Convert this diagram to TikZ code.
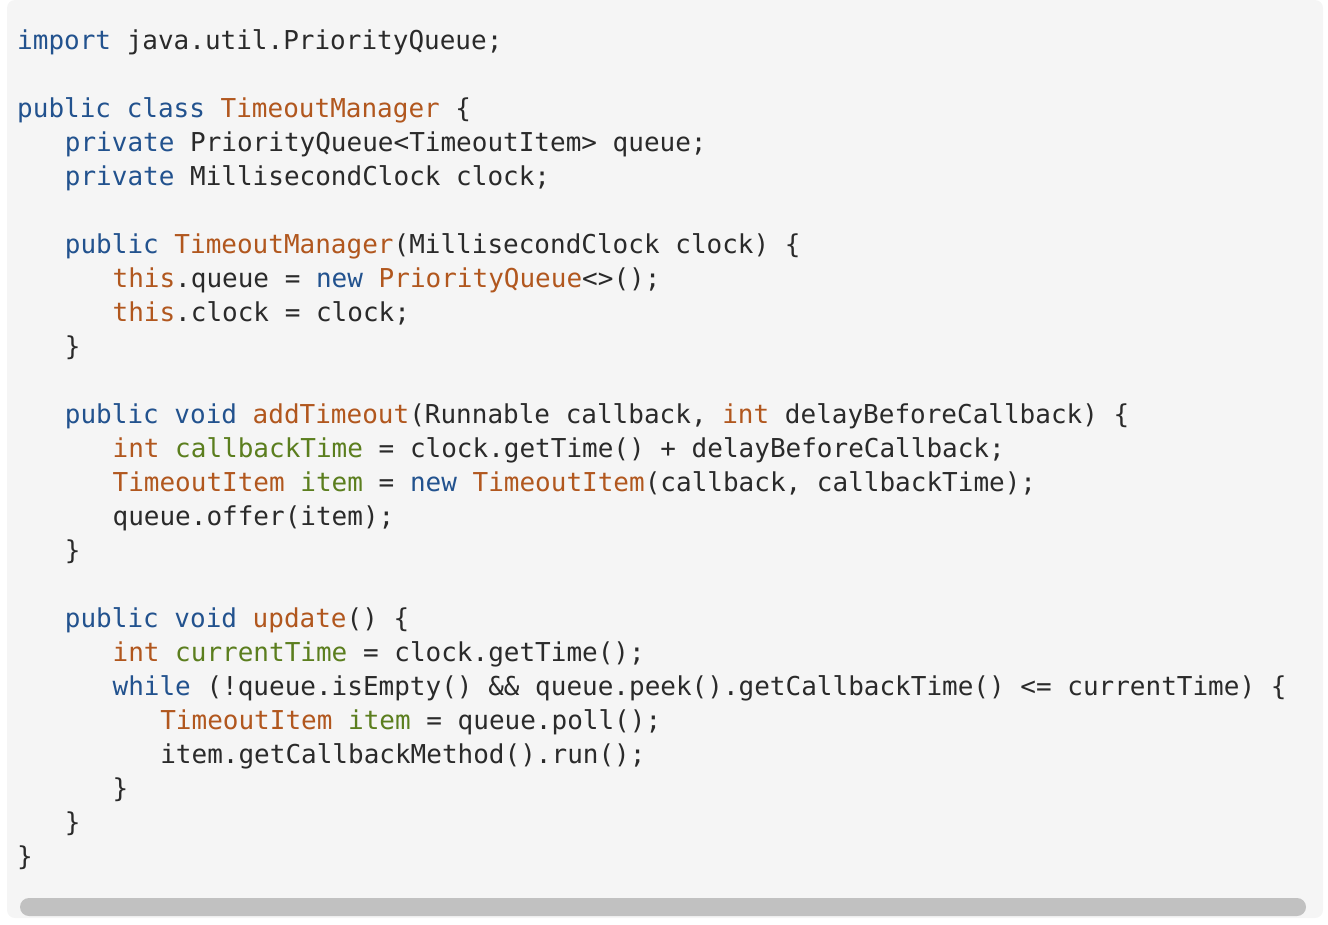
\documentclass[tikz,border=0pt]{standalone}
\usepackage{fontspec}
\setmonofont{DejaVu Sans Mono}
\definecolor{kwc}{HTML}{22528E}
\definecolor{tyc}{HTML}{B1571E}
\definecolor{vrc}{HTML}{5B7E1E}
\definecolor{txc}{HTML}{2A2A2A}
\newcommand{\kw}[1]{\textcolor{kwc}{#1}}
\newcommand{\ty}[1]{\textcolor{tyc}{#1}}
\newcommand{\vr}[1]{\textcolor{vrc}{#1}}
\tikzset{codeline/.style={anchor=base west,inner sep=0pt,font=\fontsize{26}{30}\selectfont\ttfamily,text=txc}}
\begin{document}
\begin{tikzpicture}[x=1pt,y=-1pt]
\useasboundingbox (0,0) rectangle (1328,924);
\fill[fill={rgb,255:red,245;green,245;blue,245},rounded corners=8pt] (7,0) rectangle (1323,918);
\fill[fill={rgb,255:red,193;green,193;blue,193},rounded corners=9pt] (20,898) rectangle (1306,916);
\def\cw{15.9}
\newcommand{\cl}[4]{\node[codeline] (#1) at ({17+#2*\cw},{40+#3*34+9}) {#4};}
\cl{l0}{0}{0}{\kw{import} java.util.PriorityQueue;}
\cl{l2}{0}{2}{\kw{public} \kw{class} \ty{TimeoutManager} \{}
\cl{l3}{3}{3}{\kw{private} PriorityQueue<TimeoutItem> queue;}
\cl{l4}{3}{4}{\kw{private} MillisecondClock clock;}
\cl{l6}{3}{6}{\kw{public} \ty{TimeoutManager}(MillisecondClock clock) \{}
\cl{l7}{6}{7}{\ty{this}.queue = \kw{new} \ty{PriorityQueue}<>();}
\cl{l8}{6}{8}{\ty{this}.clock = clock;}
\cl{l9}{3}{9}{\}}
\cl{l11}{3}{11}{\kw{public} \kw{void} \ty{addTimeout}(Runnable callback, \ty{int} delayBeforeCallback) \{}
\cl{l12}{6}{12}{\ty{int} \vr{callbackTime} = clock.getTime() + delayBeforeCallback;}
\cl{l13}{6}{13}{\ty{TimeoutItem} \vr{item} = \kw{new} \ty{TimeoutItem}(callback, callbackTime);}
\cl{l14}{6}{14}{queue.offer(item);}
\cl{l15}{3}{15}{\}}
\cl{l17}{3}{17}{\kw{public} \kw{void} \ty{update}() \{}
\cl{l18}{6}{18}{\ty{int} \vr{currentTime} = clock.getTime();}
\cl{l19}{6}{19}{\kw{while} (!queue.isEmpty() \&\& queue.peek().getCallbackTime() <= currentTime) \{}
\cl{l20}{9}{20}{\ty{TimeoutItem} \vr{item} = queue.poll();}
\cl{l21}{9}{21}{item.getCallbackMethod().run();}
\cl{l22}{6}{22}{\}}
\cl{l23}{3}{23}{\}}
\cl{l24}{0}{24}{\}}
\end{tikzpicture}
\end{document}
